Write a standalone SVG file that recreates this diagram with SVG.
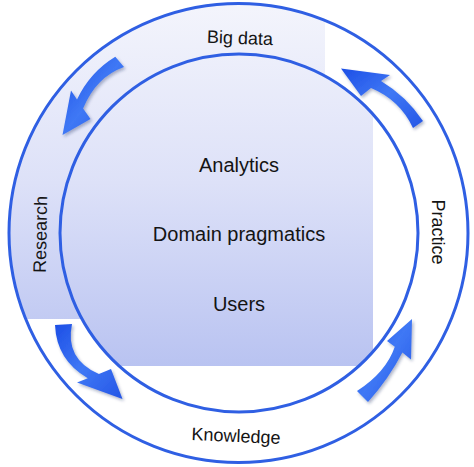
<svg xmlns="http://www.w3.org/2000/svg" width="474" height="467" viewBox="0 0 474 467">
  <style>
    .ring { fill: none; stroke: #2f5fe3; stroke-width: 3; }
    .lbl { font-family: "Liberation Sans", Arial, sans-serif; font-size: 18px; fill: #141414; text-anchor: middle; }
    .core { font-family: "Liberation Sans", Arial, sans-serif; font-size: 20px; fill: #141414; text-anchor: middle; }
    .arrow { fill: url(#arrowGrad); filter: url(#shadow); }
  </style>
  <defs>
    <linearGradient id="bgGrad" gradientUnits="userSpaceOnUse" x1="0" y1="0" x2="0" y2="366">
      <stop offset="0" stop-color="#f4f5fc"/>
      <stop offset="0.5" stop-color="#dde1f8"/>
      <stop offset="1" stop-color="#b9c3f1"/>
    </linearGradient>
    <linearGradient id="arrowGrad" x1="0" y1="0" x2="1" y2="1">
      <stop offset="0" stop-color="#1d4fe6"/>
      <stop offset="0.5" stop-color="#3f78f5"/>
      <stop offset="1" stop-color="#2456e6"/>
    </linearGradient>
    <filter id="shadow" x="-20%" y="-20%" width="140%" height="140%">
      <feDropShadow dx="1.5" dy="2" stdDeviation="1.5" flood-color="#1a2a60" flood-opacity="0.35"/>
    </filter>
    <clipPath id="outerClip"><circle cx="238.5" cy="233" r="229.5"/></clipPath>
    <clipPath id="innerClip"><circle cx="239" cy="233" r="179"/></clipPath>
  </defs>

  <rect width="474" height="467" fill="#ffffff"/>

  <g id="background">
    <rect x="0" y="0" width="325" height="319" fill="url(#bgGrad)" clip-path="url(#outerClip)"/>
    <rect x="0" y="0" width="373" height="366" fill="url(#bgGrad)" clip-path="url(#innerClip)"/>
  </g>

  <g id="outer-ring"><circle class="ring" cx="238.5" cy="233" r="229.5"/></g>
  <g id="inner-ring"><circle class="ring" cx="239" cy="233" r="179"/></g>

  <g id="connectors">
    <path class="arrow" d="M 62.5,135 L 71,90.5 L 77,99.5 Q 90,72 115.3,56.7 L 124,67 Q 96,77 83.1,108.6 L 90.5,119 Z"/>
    <path class="arrow" d="M 341,68.5 L 390,75 L 381,81 Q 406,96 423,121 L 413,128 Q 400,100 371,88 L 361,96 Z"/>
    <path class="arrow" d="M 122.5,399 L 77,382.5 L 87.8,378.2 Q 56.6,360.4 55,325 L 72,324 Q 64.6,359 98.9,374.1 L 111,369 Z"/>
    <path class="arrow" d="M 412,319 L 411,359.5 L 402.4,352.5 Q 388.8,378.8 368,402 L 357,391 Q 386.1,372.2 394.8,346.7 L 387,341 Z"/>
  </g>

  <g id="big-data"><text class="lbl" x="240" y="44" transform="rotate(2 240 40)">Big data</text></g>
  <g id="research"><text class="lbl" transform="translate(46.5 234.5) rotate(-89)">Research</text></g>
  <g id="practice"><text class="lbl" transform="translate(432 232) rotate(90)">Practice</text></g>
  <g id="knowledge"><text class="lbl" x="236" y="442" transform="rotate(2.5 236 437)">Knowledge</text></g>

  <g id="analytics"><text class="core" x="239" y="171.5">Analytics</text></g>
  <g id="domain-pragmatics"><text class="core" x="239" y="241">Domain pragmatics</text></g>
  <g id="users"><text class="core" x="239" y="310.5">Users</text></g>
</svg>
